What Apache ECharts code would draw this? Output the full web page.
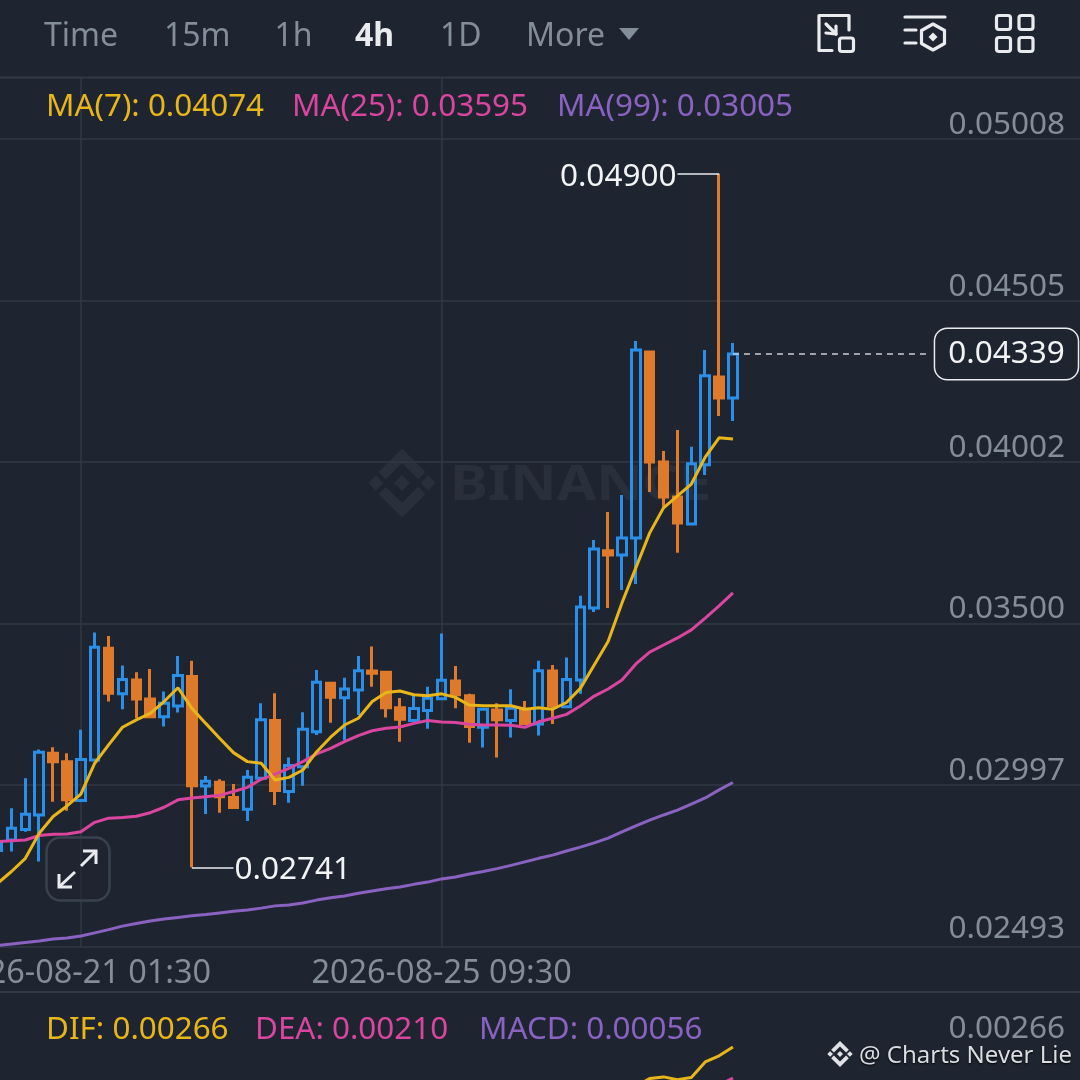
<!DOCTYPE html>
<html><head><meta charset="utf-8">
<style>html,body{margin:0;padding:0;background:#1f2530}#c{width:1080px;height:1080px}</style>
<script src="https://cdn.jsdelivr.net/npm/echarts@6/dist/echarts.min.js"></script>
</head><body><div id="c"></div>
<script>
const opens=[0.02793,0.02826,0.02859,0.02904,0.03096,0.03070,0.02949,0.03075,0.03423,0.03281,0.03324,0.03265,0.03210,0.03243,0.03335,0.02994,0.03006,0.02958,0.02922,0.03018,0.03198,0.02977,0.03054,0.03163,0.03314,0.03269,0.03293,0.03352,0.03348,0.03238,0.03198,0.03229,0.03266,0.03321,0.03275,0.03177,0.03231,0.03198,0.03229,0.03187,0.03352,0.03241,0.03324,0.03548,0.03726,0.03713,0.03766,0.04345,0.04003,0.03894,0.03810,0.03994,0.04267,0.04202];
const closes=[0.02821,0.02863,0.02906,0.03099,0.03070,0.02951,0.03077,0.03426,0.03283,0.03326,0.03265,0.03210,0.03252,0.03338,0.02995,0.03009,0.02961,0.02927,0.03021,0.03200,0.02980,0.03058,0.03171,0.03317,0.03270,0.03296,0.03353,0.03345,0.03238,0.03202,0.03235,0.03267,0.03323,0.03278,0.03179,0.03233,0.03200,0.03236,0.03189,0.03353,0.03244,0.03326,0.03551,0.03732,0.03713,0.03766,0.04351,0.04003,0.03894,0.03813,0.03997,0.04271,0.04202,0.04339];
const lows=[0.02790,0.02790,0.02852,0.02759,0.02945,0.02917,0.02949,0.03075,0.03257,0.03233,0.03205,0.03207,0.03179,0.03223,0.02741,0.02907,0.02911,0.02927,0.02885,0.03018,0.02935,0.02942,0.02995,0.03153,0.03191,0.03137,0.03215,0.03303,0.03207,0.03132,0.03198,0.03172,0.03266,0.03236,0.03129,0.03114,0.03083,0.03145,0.03189,0.03151,0.03187,0.03241,0.03281,0.03536,0.03548,0.03604,0.03623,0.03909,0.03863,0.03720,0.03810,0.03962,0.04146,0.04130];
const highs=[0.02825,0.02925,0.03018,0.03108,0.03115,0.03096,0.03169,0.03472,0.03461,0.03369,0.03348,0.03358,0.03288,0.03399,0.03384,0.03025,0.03015,0.03000,0.03044,0.03252,0.03283,0.03083,0.03224,0.03355,0.03318,0.03331,0.03399,0.03428,0.03351,0.03268,0.03274,0.03303,0.03469,0.03368,0.03281,0.03233,0.03252,0.03295,0.03259,0.03384,0.03371,0.03394,0.03586,0.03760,0.03847,0.03900,0.04379,0.04348,0.04037,0.04102,0.04050,0.04351,0.04900,0.04373];
const ma7=[0.02691,0.02728,0.02769,0.02847,0.02899,0.02932,0.02969,0.03065,0.03122,0.03177,0.03200,0.03220,0.03257,0.03300,0.03236,0.03189,0.03143,0.03098,0.03070,0.03065,0.03013,0.03021,0.03044,0.03101,0.03146,0.03184,0.03205,0.03257,0.03285,0.03290,0.03278,0.03275,0.03281,0.03270,0.03246,0.03244,0.03244,0.03244,0.03233,0.03238,0.03233,0.03254,0.03298,0.03371,0.03444,0.03564,0.03673,0.03782,0.03860,0.03897,0.03934,0.04018,0.04078,0.04074];
const ma25=[0.02821,0.02824,0.02826,0.02840,0.02844,0.02845,0.02852,0.02881,0.02894,0.02896,0.02900,0.02911,0.02928,0.02951,0.02957,0.02961,0.02965,0.02977,0.02990,0.03015,0.03031,0.03049,0.03070,0.03094,0.03111,0.03132,0.03151,0.03166,0.03174,0.03178,0.03189,0.03198,0.03193,0.03192,0.03186,0.03184,0.03184,0.03183,0.03177,0.03194,0.03205,0.03217,0.03243,0.03274,0.03296,0.03324,0.03374,0.03411,0.03433,0.03455,0.03480,0.03517,0.03555,0.03595];
const ma99=[0.02498,0.02502,0.02507,0.02512,0.02518,0.02521,0.02527,0.02537,0.02547,0.02558,0.02566,0.02574,0.02580,0.02585,0.02590,0.02594,0.02599,0.02604,0.02608,0.02614,0.02621,0.02624,0.02630,0.02639,0.02646,0.02652,0.02660,0.02667,0.02674,0.02680,0.02688,0.02695,0.02705,0.02711,0.02720,0.02728,0.02737,0.02747,0.02758,0.02769,0.02779,0.02792,0.02804,0.02817,0.02832,0.02851,0.02870,0.02888,0.02904,0.02919,0.02938,0.02957,0.02982,0.03005];
const dif=[null,null,null,null,null,null,null,null,null,null,null,null,null,null,null,null,null,null,null,null,null,null,null,null,null,null,null,null,null,null,null,null,null,null,null,null,null,null,null,null,null,null,null,null,null,null,0.00195,0.00209,0.00212,0.00207,0.00211,0.00239,0.00250,0.00266];
const dea=[null,null,null,null,null,null,null,null,null,null,null,null,null,null,null,null,null,null,null,null,null,null,null,null,null,null,null,null,null,null,null,null,null,null,null,null,null,null,null,null,null,null,null,null,null,null,null,null,null,null,null,0.00185,0.00197,0.00210];
const macdValue=0.00056;
const priceTicks=[0.02493,0.02997,0.03500,0.04002,0.04505,0.05008];
const macdTicks=[0.00266];
const tabs=['Time','15m','1h','4h','1D','More'];
const emptySlots=26;
const firstTime=Date.UTC(2026,7,20,1,30);
const labelIdx=[6,32];

const BG='#1f2530',UP='#2a8fe8',DOWN='#e07a2b',Y='#e9b61a',P='#d9459f',V='#8a62c2',GRID='#323945',GR='#848d9a';
const FONT='"Noto Sans",sans-serif';
const pad=n=>String(n).padStart(2,'0');
const n=closes.length+emptySlots;
const categories=[];
for(let i=0;i<n;i++){const d=new Date(firstTime+i*4*3600e3);categories.push(d.getUTCFullYear()+'-'+pad(d.getUTCMonth()+1)+'-'+pad(d.getUTCDate())+' '+pad(d.getUTCHours())+':'+pad(d.getUTCMinutes()));}
const ohlc=closes.map((c,i)=>[opens[i],c,lows[i],highs[i]]);
const last=closes.length-1,lastClose=closes[last];
const hi=Math.max(...highs),lo=Math.min(...lows),hiI=highs.indexOf(hi),loI=lows.indexOf(lo);

// ---- chrome drawn as graphics
const txt=(x,y,t,fill,size,extra)=>({type:'text',x,y,z:20,style:Object.assign({text:t,fill,font:`${(extra&&extra.fw)||400} ${size}px ${FONT}`,textAlign:(extra&&extra.ta)||'left',textVerticalAlign:'middle'},extra&&extra.st)});
const ICON='#e9ebef';
const st={stroke:ICON,lineWidth:3.2,fill:'none',lineCap:'round',lineJoin:'round'};
const poly=(pts,s,closed)=>({type:closed?'polygon':'polyline',z:20,shape:{points:pts},style:s||st});
const rr=(x,y,w,h,r,s)=>({type:'rect',z:20,shape:{x,y,width:w,height:h,r},style:s||st});
function logo(cx,cy,s,fill,z){const d=(x,y,r)=>({type:'polygon',z,shape:{points:[[x,y-r],[x+r,y],[x,y+r],[x-r,y]]},style:{fill}});
  const chev=(dir)=>({type:'polygon',z,shape:{points:[[cx,cy+dir*s],[cx+.68*s,cy+dir*.32*s],[cx+.47*s,cy+dir*.11*s],[cx,cy+dir*.58*s],[cx-.47*s,cy+dir*.11*s],[cx-.68*s,cy+dir*.32*s]]},style:{fill}});
  return [d(cx,cy,.23*s),d(cx-.76*s,cy,.22*s),d(cx+.76*s,cy,.22*s),chev(-1),chev(1)];}
const hexR=13,hx=933,hy=37;
const graphics=[
  {type:'line',z:1,shape:{x1:0,y1:77.5,x2:1080,y2:77.5},style:{stroke:GRID,lineWidth:2}},
  {type:'line',z:1,shape:{x1:0,y1:992,x2:1080,y2:992},style:{stroke:GRID,lineWidth:2}},
  txt(44,37,tabs[0],GR,32),txt(164,37,tabs[1],GR,32),txt(274.5,37,tabs[2],GR,32),
  txt(355,37,tabs[3],'#e9ebef',32,{fw:700}),txt(440,37,tabs[4],GR,32),txt(526,37,tabs[5],GR,32),
  poly([[619,28],[639,28],[629,40]],{fill:GR},true),
  // icon 1
  poly([[849,30],[849,15.5],[819,15.5],[819,50.5],[832,50.5]]),
  rr(839.5,38,14,13.5,2.5),
  poly([[826,24],[836,34]]),poly([[826,33],[836,34],[836,26]]),
  // icon 2
  poly([[905,17],[945,17]]),poly([[905,30],[916,30]]),poly([[905,43],[916,43]]),
  poly([[hx,hy-hexR],[hx+hexR-1.5,hy-hexR/2],[hx+hexR-1.5,hy+hexR/2],[hx,hy+hexR],[hx-hexR+1.5,hy+hexR/2],[hx-hexR+1.5,hy-hexR/2]],st,true),
  poly([[hx,hy-4.5],[hx+4.5,hy],[hx,hy+4.5],[hx-4.5,hy]],{fill:ICON},true),
  // icon 3
  rr(996.5,15.5,14,14,2.5),rr(1019,15.5,14,14,2.5),rr(996.5,37.5,14,14,2.5),rr(1019,37.5,14,14,2.5),
  // legends
  txt(46,107,'MA(7): '+ma7[last].toFixed(5),Y,31.4),
  txt(292,107,'MA(25): '+ma25[last].toFixed(5),P,31.4),
  txt(557,107,'MA(99): '+ma99[last].toFixed(5),V,31.4),
  txt(46,1030,'DIF: '+dif[last].toFixed(5),Y,31.4),
  txt(255,1030,'DEA: '+dea[last].toFixed(5),P,31.4),
  txt(479,1030,'MACD: '+macdValue.toFixed(5),V,31.4),
  // watermark
  {type:'text',x:450,y:486,z:0,scaleX:1.19,style:{text:'BINANCE',fill:'#2a303b',font:`700 48px ${FONT}`,textVerticalAlign:'middle'}},
  ...logo(402,483,34.5,'#2a303b',0),
  // expand
  rr(46.5,837.5,63,63,14,{stroke:'#39414d',lineWidth:2.5,fill:'rgba(31,37,48,.6)'}),
  poly([[59,887],[75,872]],{stroke:ICON,lineWidth:3,fill:'none'}),poly([[59,874],[59,887],[72,887]],{stroke:ICON,lineWidth:3,fill:'none'}),
  poly([[96,851],[81,866]],{stroke:ICON,lineWidth:3,fill:'none'}),poly([[83,851],[96,851],[96,864]],{stroke:ICON,lineWidth:3,fill:'none'}),
  // credit
  ...logo(840,1054,13,'#dfe2e6',20),
  txt(859,1056,'@ Charts Never Lie','#d9dce1',24,{st:{textShadowColor:'#000',textShadowBlur:2,textShadowOffsetY:1}}),
];

const seg=(a,b,style,label)=>[{coord:a,lineStyle:style,label},{coord:b}];
const chart=echarts.init(document.getElementById('c'),null,{renderer:'canvas'});
chart.setOption({
  animation:false,backgroundColor:BG,
  graphic:graphics,
  grid:[
    {left:-2.4,right:-13.7,top:78,bottom:133,containLabel:false,outerBoundsMode:'none'},
    {left:-2.4,right:-13.7,top:992,bottom:0,containLabel:false,outerBoundsMode:'none'}
  ],
  xAxis:[
    {type:'category',gridIndex:0,data:categories,boundaryGap:false,
     axisLine:{show:false},axisTick:{show:false,interval:(i)=>labelIdx.includes(i)},
     axisLabel:{color:GR,fontFamily:FONT,fontSize:32.4,margin:11,hideOverlap:false,interval:(i)=>labelIdx.includes(i)},
     splitLine:{show:true,lineStyle:{color:GRID,width:1.5},interval:(i)=>labelIdx.includes(i)}},
    {type:'category',gridIndex:1,data:categories,show:false,boundaryGap:false}
  ],
  yAxis:[
    {type:'value',gridIndex:0,position:'right',min:0.02493,max:0.02493+869/32127,
     axisLine:{show:false},
     axisTick:{show:false,customValues:priceTicks},
     axisLabel:{inside:true,customValues:priceTicks,color:GR,fontFamily:FONT,fontSize:31.5,margin:28.7,
       verticalAlign:'bottom',lineHeight:28,
       formatter:v=>v===priceTicks[0]?'{low|'+v.toFixed(5)+'}':v.toFixed(5),
       rich:{low:{color:GR,fontFamily:FONT,fontSize:31.5,lineHeight:28,padding:[0,0,8,0]}}},
     splitLine:{show:true,lineStyle:{color:GRID,width:1.5}}},
    {type:'value',gridIndex:1,position:'right',min:0.002064,max:0.003653,
     axisLine:{show:false},
     axisTick:{show:false,customValues:macdTicks},
     axisLabel:{inside:true,customValues:macdTicks,color:GR,fontFamily:FONT,fontSize:31.5,margin:28.7,
       verticalAlign:'bottom',lineHeight:36,formatter:v=>v.toFixed(5)},
     splitLine:{show:false}}
  ],
  series:[
    {type:'candlestick',name:'K',xAxisIndex:0,yAxisIndex:0,data:ohlc,barWidth:9,z:3,clip:false,
     itemStyle:{color:'rgba(0,0,0,0)',color0:DOWN,borderColor:UP,borderColor0:DOWN,borderColorDoji:DOWN,borderWidth:3},
     markLine:{silent:true,symbol:['none','none'],animation:false,z:6,
       data:[
        seg([last,lastClose],[last+14,lastClose],{color:'#c9cdd3',type:[6,5],width:1.5},
            {show:true,position:'end',distance:7,offset:[1,0],formatter:lastClose.toFixed(5),color:'#f2f3f5',fontFamily:FONT,fontSize:31.5,
             borderColor:'#e9ebef',borderWidth:1.5,borderRadius:12,padding:[12,13,6,13],backgroundColor:BG}),
        seg([hiI,hi],[hiI-3,hi],{color:'#e9ebef',type:'solid',width:1.5},
            {show:true,position:'end',distance:1,offset:[0,3],formatter:hi.toFixed(5),color:'#f2f3f5',fontFamily:FONT,fontSize:31.5}),
        seg([loI,lo],[loI+3,lo],{color:'#e9ebef',type:'solid',width:1.5},
            {show:true,position:'end',distance:1,offset:[0,3],formatter:lo.toFixed(5),color:'#f2f3f5',fontFamily:FONT,fontSize:31.5})
       ]}},
    {type:'line',name:'MA25',xAxisIndex:0,yAxisIndex:0,data:ma25,showSymbol:false,z:4,lineStyle:{color:P,width:3}},
    {type:'line',name:'MA99',xAxisIndex:0,yAxisIndex:0,data:ma99,showSymbol:false,z:4,lineStyle:{color:V,width:3}},
    {type:'line',name:'MA7',xAxisIndex:0,yAxisIndex:0,data:ma7,showSymbol:false,z:5,lineStyle:{color:Y,width:3}},
    {type:'line',name:'DEA',xAxisIndex:1,yAxisIndex:1,data:dea,showSymbol:false,z:4,lineStyle:{color:P,width:3}},
    {type:'line',name:'DIF',xAxisIndex:1,yAxisIndex:1,data:dif,showSymbol:false,z:5,lineStyle:{color:Y,width:3}}
  ]
});
</script></body></html>
